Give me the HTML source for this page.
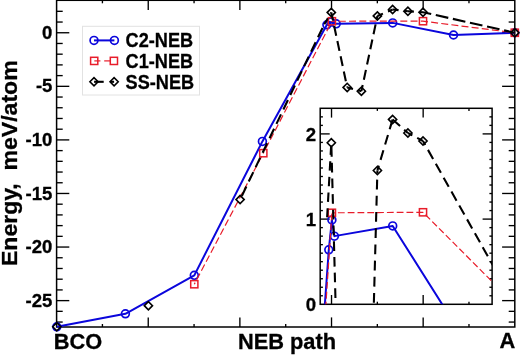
<!DOCTYPE html>
<html><head><meta charset="utf-8"><title>NEB path energy</title>
<style>html,body{margin:0;padding:0;background:#fff}text{stroke:#000;stroke-width:.3px;fill:#000}</style></head>
<body>
<svg width="520" height="355" viewBox="0 0 520 355" style="display:block" font-family="'Liberation Sans', Arial, Helvetica, sans-serif" font-weight="bold">
<rect width="520" height="355" fill="#fff"/>
<defs><clipPath id="cm"><rect x="56.6" y="0" width="458.19999999999993" height="327.0"/></clipPath><clipPath id="ci"><rect x="320.2" y="108.3" width="171.90000000000003" height="196.0"/></clipPath><clipPath id="ca"><rect x="320.2" y="120" width="30" height="97.5"/></clipPath></defs>
<rect x="56.6" y="0.3" width="458.19999999999993" height="326.7" fill="none" stroke="#000" stroke-width="1.5"/>
<line x1="56.60" y1="322.06" x2="62.70" y2="322.06" stroke="#000" stroke-width="1.35"/>
<line x1="514.80" y1="322.06" x2="508.70" y2="322.06" stroke="#000" stroke-width="1.35"/>
<line x1="56.60" y1="311.34" x2="62.70" y2="311.34" stroke="#000" stroke-width="1.35"/>
<line x1="514.80" y1="311.34" x2="508.70" y2="311.34" stroke="#000" stroke-width="1.35"/>
<line x1="56.60" y1="300.62" x2="69.30" y2="300.62" stroke="#000" stroke-width="1.35"/>
<line x1="514.80" y1="300.62" x2="502.10" y2="300.62" stroke="#000" stroke-width="1.35"/>
<line x1="56.60" y1="289.91" x2="62.70" y2="289.91" stroke="#000" stroke-width="1.35"/>
<line x1="514.80" y1="289.91" x2="508.70" y2="289.91" stroke="#000" stroke-width="1.35"/>
<line x1="56.60" y1="279.19" x2="62.70" y2="279.19" stroke="#000" stroke-width="1.35"/>
<line x1="514.80" y1="279.19" x2="508.70" y2="279.19" stroke="#000" stroke-width="1.35"/>
<line x1="56.60" y1="268.48" x2="62.70" y2="268.48" stroke="#000" stroke-width="1.35"/>
<line x1="514.80" y1="268.48" x2="508.70" y2="268.48" stroke="#000" stroke-width="1.35"/>
<line x1="56.60" y1="257.76" x2="62.70" y2="257.76" stroke="#000" stroke-width="1.35"/>
<line x1="514.80" y1="257.76" x2="508.70" y2="257.76" stroke="#000" stroke-width="1.35"/>
<line x1="56.60" y1="247.05" x2="69.30" y2="247.05" stroke="#000" stroke-width="1.35"/>
<line x1="514.80" y1="247.05" x2="502.10" y2="247.05" stroke="#000" stroke-width="1.35"/>
<line x1="56.60" y1="236.34" x2="62.70" y2="236.34" stroke="#000" stroke-width="1.35"/>
<line x1="514.80" y1="236.34" x2="508.70" y2="236.34" stroke="#000" stroke-width="1.35"/>
<line x1="56.60" y1="225.62" x2="62.70" y2="225.62" stroke="#000" stroke-width="1.35"/>
<line x1="514.80" y1="225.62" x2="508.70" y2="225.62" stroke="#000" stroke-width="1.35"/>
<line x1="56.60" y1="214.91" x2="62.70" y2="214.91" stroke="#000" stroke-width="1.35"/>
<line x1="514.80" y1="214.91" x2="508.70" y2="214.91" stroke="#000" stroke-width="1.35"/>
<line x1="56.60" y1="204.19" x2="62.70" y2="204.19" stroke="#000" stroke-width="1.35"/>
<line x1="514.80" y1="204.19" x2="508.70" y2="204.19" stroke="#000" stroke-width="1.35"/>
<line x1="56.60" y1="193.47" x2="69.30" y2="193.47" stroke="#000" stroke-width="1.35"/>
<line x1="514.80" y1="193.47" x2="502.10" y2="193.47" stroke="#000" stroke-width="1.35"/>
<line x1="56.60" y1="182.76" x2="62.70" y2="182.76" stroke="#000" stroke-width="1.35"/>
<line x1="514.80" y1="182.76" x2="508.70" y2="182.76" stroke="#000" stroke-width="1.35"/>
<line x1="56.60" y1="172.04" x2="62.70" y2="172.04" stroke="#000" stroke-width="1.35"/>
<line x1="514.80" y1="172.04" x2="508.70" y2="172.04" stroke="#000" stroke-width="1.35"/>
<line x1="56.60" y1="161.33" x2="62.70" y2="161.33" stroke="#000" stroke-width="1.35"/>
<line x1="514.80" y1="161.33" x2="508.70" y2="161.33" stroke="#000" stroke-width="1.35"/>
<line x1="56.60" y1="150.62" x2="62.70" y2="150.62" stroke="#000" stroke-width="1.35"/>
<line x1="514.80" y1="150.62" x2="508.70" y2="150.62" stroke="#000" stroke-width="1.35"/>
<line x1="56.60" y1="139.90" x2="69.30" y2="139.90" stroke="#000" stroke-width="1.35"/>
<line x1="514.80" y1="139.90" x2="502.10" y2="139.90" stroke="#000" stroke-width="1.35"/>
<line x1="56.60" y1="129.19" x2="62.70" y2="129.19" stroke="#000" stroke-width="1.35"/>
<line x1="514.80" y1="129.19" x2="508.70" y2="129.19" stroke="#000" stroke-width="1.35"/>
<line x1="56.60" y1="118.47" x2="62.70" y2="118.47" stroke="#000" stroke-width="1.35"/>
<line x1="514.80" y1="118.47" x2="508.70" y2="118.47" stroke="#000" stroke-width="1.35"/>
<line x1="56.60" y1="107.75" x2="62.70" y2="107.75" stroke="#000" stroke-width="1.35"/>
<line x1="514.80" y1="107.75" x2="508.70" y2="107.75" stroke="#000" stroke-width="1.35"/>
<line x1="56.60" y1="97.04" x2="62.70" y2="97.04" stroke="#000" stroke-width="1.35"/>
<line x1="514.80" y1="97.04" x2="508.70" y2="97.04" stroke="#000" stroke-width="1.35"/>
<line x1="56.60" y1="86.33" x2="69.30" y2="86.33" stroke="#000" stroke-width="1.35"/>
<line x1="514.80" y1="86.33" x2="502.10" y2="86.33" stroke="#000" stroke-width="1.35"/>
<line x1="56.60" y1="75.61" x2="62.70" y2="75.61" stroke="#000" stroke-width="1.35"/>
<line x1="514.80" y1="75.61" x2="508.70" y2="75.61" stroke="#000" stroke-width="1.35"/>
<line x1="56.60" y1="64.89" x2="62.70" y2="64.89" stroke="#000" stroke-width="1.35"/>
<line x1="514.80" y1="64.89" x2="508.70" y2="64.89" stroke="#000" stroke-width="1.35"/>
<line x1="56.60" y1="54.18" x2="62.70" y2="54.18" stroke="#000" stroke-width="1.35"/>
<line x1="514.80" y1="54.18" x2="508.70" y2="54.18" stroke="#000" stroke-width="1.35"/>
<line x1="56.60" y1="43.47" x2="62.70" y2="43.47" stroke="#000" stroke-width="1.35"/>
<line x1="514.80" y1="43.47" x2="508.70" y2="43.47" stroke="#000" stroke-width="1.35"/>
<line x1="56.60" y1="32.75" x2="69.30" y2="32.75" stroke="#000" stroke-width="1.35"/>
<line x1="514.80" y1="32.75" x2="502.10" y2="32.75" stroke="#000" stroke-width="1.35"/>
<line x1="56.60" y1="22.04" x2="62.70" y2="22.04" stroke="#000" stroke-width="1.35"/>
<line x1="514.80" y1="22.04" x2="508.70" y2="22.04" stroke="#000" stroke-width="1.35"/>
<line x1="56.60" y1="11.32" x2="62.70" y2="11.32" stroke="#000" stroke-width="1.35"/>
<line x1="514.80" y1="11.32" x2="508.70" y2="11.32" stroke="#000" stroke-width="1.35"/>
<line x1="102.42" y1="327.00" x2="102.42" y2="324.00" stroke="#000" stroke-width="1.35"/>
<line x1="102.42" y1="0.30" x2="102.42" y2="3.30" stroke="#000" stroke-width="1.35"/>
<line x1="148.24" y1="327.00" x2="148.24" y2="317.40" stroke="#000" stroke-width="1.35"/>
<line x1="148.24" y1="0.30" x2="148.24" y2="9.90" stroke="#000" stroke-width="1.35"/>
<line x1="194.06" y1="327.00" x2="194.06" y2="324.00" stroke="#000" stroke-width="1.35"/>
<line x1="194.06" y1="0.30" x2="194.06" y2="3.30" stroke="#000" stroke-width="1.35"/>
<line x1="239.88" y1="327.00" x2="239.88" y2="317.40" stroke="#000" stroke-width="1.35"/>
<line x1="239.88" y1="0.30" x2="239.88" y2="9.90" stroke="#000" stroke-width="1.35"/>
<line x1="285.70" y1="327.00" x2="285.70" y2="324.00" stroke="#000" stroke-width="1.35"/>
<line x1="285.70" y1="0.30" x2="285.70" y2="3.30" stroke="#000" stroke-width="1.35"/>
<line x1="331.52" y1="327.00" x2="331.52" y2="317.40" stroke="#000" stroke-width="1.35"/>
<line x1="331.52" y1="0.30" x2="331.52" y2="9.90" stroke="#000" stroke-width="1.35"/>
<line x1="377.34" y1="327.00" x2="377.34" y2="324.00" stroke="#000" stroke-width="1.35"/>
<line x1="377.34" y1="0.30" x2="377.34" y2="3.30" stroke="#000" stroke-width="1.35"/>
<line x1="423.16" y1="327.00" x2="423.16" y2="317.40" stroke="#000" stroke-width="1.35"/>
<line x1="423.16" y1="0.30" x2="423.16" y2="9.90" stroke="#000" stroke-width="1.35"/>
<line x1="468.98" y1="327.00" x2="468.98" y2="324.00" stroke="#000" stroke-width="1.35"/>
<line x1="468.98" y1="0.30" x2="468.98" y2="3.30" stroke="#000" stroke-width="1.35"/>
<text transform="translate(52.4,38.90) scale(1.06,1)" text-anchor="end" font-size="17.5">0</text>
<text transform="translate(52.4,92.48) scale(1.06,1)" text-anchor="end" font-size="17.5">-5</text>
<text transform="translate(52.4,146.05) scale(1.06,1)" text-anchor="end" font-size="17.5">-10</text>
<text transform="translate(52.4,199.62) scale(1.06,1)" text-anchor="end" font-size="17.5">-15</text>
<text transform="translate(52.4,253.20) scale(1.06,1)" text-anchor="end" font-size="17.5">-20</text>
<text transform="translate(52.4,306.77) scale(1.06,1)" text-anchor="end" font-size="17.5">-25</text>
<text transform="translate(53.8,348.7) scale(1.0,1)" font-size="21.8">BCO</text>
<text transform="translate(287.0,349.0) scale(1.0,1)" text-anchor="middle" font-size="21.8">NEB path</text>
<text transform="translate(515.2,348.3) scale(1.0,1)" text-anchor="end" font-size="21.8">A</text>
<text transform="translate(17.2,163.2) rotate(-90) scale(1.02,1)" text-anchor="middle" font-size="22.6" xml:space="preserve">Energy,  meV/atom</text>
<polyline points="56.80,326.77 125.40,313.80 194.30,275.34 262.40,141.40 326.90,24.82 330.80,22.04 336.20,23.86 392.70,22.89 453.50,35.00 514.80,32.75" fill="none" stroke="#0b06dc" stroke-width="2.0" stroke-linejoin="round"/>
<circle cx="56.80" cy="326.77" r="3.9" fill="none" stroke="#0b06dc" stroke-width="1.7"/>
<circle cx="125.40" cy="313.80" r="3.9" fill="none" stroke="#0b06dc" stroke-width="1.7"/>
<circle cx="194.30" cy="275.34" r="3.9" fill="none" stroke="#0b06dc" stroke-width="1.7"/>
<circle cx="262.40" cy="141.40" r="3.9" fill="none" stroke="#0b06dc" stroke-width="1.7"/>
<circle cx="326.90" cy="24.82" r="3.9" fill="none" stroke="#0b06dc" stroke-width="1.7"/>
<circle cx="330.80" cy="22.04" r="3.9" fill="none" stroke="#0b06dc" stroke-width="1.7"/>
<circle cx="336.20" cy="23.86" r="3.9" fill="none" stroke="#0b06dc" stroke-width="1.7"/>
<circle cx="392.70" cy="22.89" r="3.9" fill="none" stroke="#0b06dc" stroke-width="1.7"/>
<circle cx="453.50" cy="35.00" r="3.9" fill="none" stroke="#0b06dc" stroke-width="1.7"/>
<circle cx="514.80" cy="32.75" r="3.9" fill="none" stroke="#0b06dc" stroke-width="1.7"/>
<line x1="194.30" y1="284.23" x2="263.30" y2="153.19" stroke="#e81c2a" stroke-width="1.2" stroke-dasharray="7 3.2" stroke-dashoffset="5.20"/>
<line x1="263.30" y1="153.19" x2="331.90" y2="21.24" stroke="#e81c2a" stroke-width="1.2" stroke-dasharray="7 3.2" stroke-dashoffset="5.20"/>
<line x1="331.90" y1="21.24" x2="423.00" y2="21.18" stroke="#e81c2a" stroke-width="1.2" stroke-dasharray="7 3.25" stroke-dashoffset="3.35"/>
<line x1="423.00" y1="21.18" x2="514.80" y2="32.75" stroke="#e81c2a" stroke-width="1.2" stroke-dasharray="7 3.2" stroke-dashoffset="2.00"/>
<rect x="190.70" y="280.63" width="7.2" height="7.2" fill="none" stroke="#e81c2a" stroke-width="1.5"/>
<rect x="259.70" y="149.59" width="7.2" height="7.2" fill="none" stroke="#e81c2a" stroke-width="1.5"/>
<rect x="328.30" y="17.64" width="7.2" height="7.2" fill="none" stroke="#e81c2a" stroke-width="1.5"/>
<rect x="419.40" y="17.58" width="7.2" height="7.2" fill="none" stroke="#e81c2a" stroke-width="1.5"/>
<rect x="511.20" y="29.15" width="7.2" height="7.2" fill="none" stroke="#e81c2a" stroke-width="1.5"/>
<line x1="240.10" y1="199.58" x2="324.30" y2="24.18" stroke="#000" stroke-width="2.1" stroke-dasharray="10.5 5.5" stroke-dashoffset="12.00"/>
<line x1="324.30" y1="24.18" x2="331.30" y2="12.43" stroke="#000" stroke-width="2.1" stroke-dasharray="10 5.5" stroke-dashoffset="3.00"/>
<line x1="331.30" y1="12.43" x2="347.20" y2="87.40" stroke="#000" stroke-width="2.1" stroke-dasharray="10 5.5" stroke-dashoffset="1.70"/>
<line x1="347.20" y1="87.40" x2="361.40" y2="91.15" stroke="#000" stroke-width="2.1" stroke-dasharray="10 5.5" stroke-dashoffset="4.00"/>
<line x1="361.40" y1="91.15" x2="377.40" y2="15.93" stroke="#000" stroke-width="2.1" stroke-dasharray="10 5.5" stroke-dashoffset="3.75"/>
<line x1="377.40" y1="15.93" x2="392.60" y2="9.50" stroke="#000" stroke-width="2.1" stroke-dasharray="10 5.5" stroke-dashoffset="4.00"/>
<line x1="392.60" y1="9.50" x2="407.90" y2="11.21" stroke="#000" stroke-width="2.1" stroke-dasharray="10 5.5" stroke-dashoffset="4.00"/>
<line x1="407.90" y1="11.21" x2="423.00" y2="12.21" stroke="#000" stroke-width="2.1" stroke-dasharray="10 5.5" stroke-dashoffset="4.00"/>
<line x1="423.00" y1="12.21" x2="514.80" y2="32.75" stroke="#000" stroke-width="2.1" stroke-dasharray="12.8 4.7" stroke-dashoffset="4.40"/>
<path d="M52.70 326.77L56.80 322.67L60.90 326.77L56.80 330.87Z" fill="none" stroke="#000" stroke-width="1.6"/>
<path d="M144.30 305.66L148.40 301.56L152.50 305.66L148.40 309.76Z" fill="none" stroke="#000" stroke-width="1.6"/>
<path d="M236.00 199.58L240.10 195.48L244.20 199.58L240.10 203.68Z" fill="none" stroke="#000" stroke-width="1.6"/>
<path d="M327.20 12.43L331.30 8.33L335.40 12.43L331.30 16.53Z" fill="none" stroke="#000" stroke-width="1.6"/>
<path d="M343.10 87.40L347.20 83.30L351.30 87.40L347.20 91.50Z" fill="none" stroke="#000" stroke-width="1.6"/>
<path d="M357.30 91.15L361.40 87.05L365.50 91.15L361.40 95.25Z" fill="none" stroke="#000" stroke-width="1.6"/>
<path d="M373.30 15.93L377.40 11.83L381.50 15.93L377.40 20.03Z" fill="none" stroke="#000" stroke-width="1.6"/>
<path d="M388.50 9.50L392.60 5.40L396.70 9.50L392.60 13.60Z" fill="none" stroke="#000" stroke-width="1.6"/>
<path d="M403.80 11.21L407.90 7.11L412.00 11.21L407.90 15.31Z" fill="none" stroke="#000" stroke-width="1.6"/>
<path d="M418.90 12.21L423.00 8.11L427.10 12.21L423.00 16.31Z" fill="none" stroke="#000" stroke-width="1.6"/>
<path d="M510.70 32.75L514.80 28.65L518.90 32.75L514.80 36.85Z" fill="none" stroke="#000" stroke-width="1.6"/>
<rect x="82.5" y="26.3" width="117" height="68.7" fill="#fff" stroke="#e2e2e2" stroke-width="1"/>
<line x1="94.00" y1="40.40" x2="114.40" y2="40.40" stroke="#0b06dc" stroke-width="2.0"/>
<circle cx="94.00" cy="40.40" r="3.9" fill="none" stroke="#0b06dc" stroke-width="1.7"/>
<circle cx="114.40" cy="40.40" r="3.9" fill="none" stroke="#0b06dc" stroke-width="1.7"/>
<line x1="94.30" y1="60.90" x2="100.40" y2="60.90" stroke="#e81c2a" stroke-width="1.2"/>
<line x1="104.20" y1="60.90" x2="110.50" y2="60.90" stroke="#e81c2a" stroke-width="1.2"/>
<rect x="90.60" y="57.30" width="7.2" height="7.2" fill="none" stroke="#e81c2a" stroke-width="1.5"/>
<rect x="110.30" y="57.30" width="7.2" height="7.2" fill="none" stroke="#e81c2a" stroke-width="1.5"/>
<line x1="94.10" y1="81.80" x2="103.70" y2="81.80" stroke="#000" stroke-width="2.1"/>
<line x1="110.40" y1="81.80" x2="114.10" y2="81.80" stroke="#000" stroke-width="2.1"/>
<path d="M89.90 81.80L94.00 77.70L98.10 81.80L94.00 85.90Z" fill="none" stroke="#000" stroke-width="1.6"/>
<path d="M110.00 81.80L114.10 77.70L118.20 81.80L114.10 85.90Z" fill="none" stroke="#000" stroke-width="1.6"/>
<text transform="translate(125.6,47.30) scale(0.935,1)" font-size="19.4">C2-NEB</text>
<text transform="translate(125.6,67.80) scale(0.935,1)" font-size="19.4">C1-NEB</text>
<text transform="translate(125.6,88.70) scale(0.935,1)" font-size="19.4">SS-NEB</text>
<rect x="320.2" y="108.3" width="171.90000000000003" height="196.0" fill="#fff" stroke="#000" stroke-width="1.5"/>
<line x1="320.20" y1="295.78" x2="322.90" y2="295.78" stroke="#000" stroke-width="1.35"/>
<line x1="492.10" y1="295.78" x2="489.40" y2="295.78" stroke="#000" stroke-width="1.35"/>
<line x1="320.20" y1="287.26" x2="322.90" y2="287.26" stroke="#000" stroke-width="1.35"/>
<line x1="492.10" y1="287.26" x2="489.40" y2="287.26" stroke="#000" stroke-width="1.35"/>
<line x1="320.20" y1="278.74" x2="322.90" y2="278.74" stroke="#000" stroke-width="1.35"/>
<line x1="492.10" y1="278.74" x2="489.40" y2="278.74" stroke="#000" stroke-width="1.35"/>
<line x1="320.20" y1="270.22" x2="322.90" y2="270.22" stroke="#000" stroke-width="1.35"/>
<line x1="492.10" y1="270.22" x2="489.40" y2="270.22" stroke="#000" stroke-width="1.35"/>
<line x1="320.20" y1="261.70" x2="322.90" y2="261.70" stroke="#000" stroke-width="1.35"/>
<line x1="492.10" y1="261.70" x2="489.40" y2="261.70" stroke="#000" stroke-width="1.35"/>
<line x1="320.20" y1="253.18" x2="322.90" y2="253.18" stroke="#000" stroke-width="1.35"/>
<line x1="492.10" y1="253.18" x2="489.40" y2="253.18" stroke="#000" stroke-width="1.35"/>
<line x1="320.20" y1="244.66" x2="322.90" y2="244.66" stroke="#000" stroke-width="1.35"/>
<line x1="492.10" y1="244.66" x2="489.40" y2="244.66" stroke="#000" stroke-width="1.35"/>
<line x1="320.20" y1="236.14" x2="322.90" y2="236.14" stroke="#000" stroke-width="1.35"/>
<line x1="492.10" y1="236.14" x2="489.40" y2="236.14" stroke="#000" stroke-width="1.35"/>
<line x1="320.20" y1="227.62" x2="322.90" y2="227.62" stroke="#000" stroke-width="1.35"/>
<line x1="492.10" y1="227.62" x2="489.40" y2="227.62" stroke="#000" stroke-width="1.35"/>
<line x1="320.20" y1="219.10" x2="329.70" y2="219.10" stroke="#000" stroke-width="1.35"/>
<line x1="492.10" y1="219.10" x2="482.60" y2="219.10" stroke="#000" stroke-width="1.35"/>
<line x1="320.20" y1="210.58" x2="322.90" y2="210.58" stroke="#000" stroke-width="1.35"/>
<line x1="492.10" y1="210.58" x2="489.40" y2="210.58" stroke="#000" stroke-width="1.35"/>
<line x1="320.20" y1="202.06" x2="322.90" y2="202.06" stroke="#000" stroke-width="1.35"/>
<line x1="492.10" y1="202.06" x2="489.40" y2="202.06" stroke="#000" stroke-width="1.35"/>
<line x1="320.20" y1="193.54" x2="322.90" y2="193.54" stroke="#000" stroke-width="1.35"/>
<line x1="492.10" y1="193.54" x2="489.40" y2="193.54" stroke="#000" stroke-width="1.35"/>
<line x1="320.20" y1="185.02" x2="322.90" y2="185.02" stroke="#000" stroke-width="1.35"/>
<line x1="492.10" y1="185.02" x2="489.40" y2="185.02" stroke="#000" stroke-width="1.35"/>
<line x1="320.20" y1="176.50" x2="322.90" y2="176.50" stroke="#000" stroke-width="1.35"/>
<line x1="492.10" y1="176.50" x2="489.40" y2="176.50" stroke="#000" stroke-width="1.35"/>
<line x1="320.20" y1="167.98" x2="322.90" y2="167.98" stroke="#000" stroke-width="1.35"/>
<line x1="492.10" y1="167.98" x2="489.40" y2="167.98" stroke="#000" stroke-width="1.35"/>
<line x1="320.20" y1="159.46" x2="322.90" y2="159.46" stroke="#000" stroke-width="1.35"/>
<line x1="492.10" y1="159.46" x2="489.40" y2="159.46" stroke="#000" stroke-width="1.35"/>
<line x1="320.20" y1="150.94" x2="322.90" y2="150.94" stroke="#000" stroke-width="1.35"/>
<line x1="492.10" y1="150.94" x2="489.40" y2="150.94" stroke="#000" stroke-width="1.35"/>
<line x1="320.20" y1="142.42" x2="322.90" y2="142.42" stroke="#000" stroke-width="1.35"/>
<line x1="492.10" y1="142.42" x2="489.40" y2="142.42" stroke="#000" stroke-width="1.35"/>
<line x1="320.20" y1="133.90" x2="329.70" y2="133.90" stroke="#000" stroke-width="1.35"/>
<line x1="492.10" y1="133.90" x2="482.60" y2="133.90" stroke="#000" stroke-width="1.35"/>
<line x1="320.20" y1="125.38" x2="322.90" y2="125.38" stroke="#000" stroke-width="1.35"/>
<line x1="492.10" y1="125.38" x2="489.40" y2="125.38" stroke="#000" stroke-width="1.35"/>
<line x1="320.20" y1="116.86" x2="322.90" y2="116.86" stroke="#000" stroke-width="1.35"/>
<line x1="492.10" y1="116.86" x2="489.40" y2="116.86" stroke="#000" stroke-width="1.35"/>
<line x1="331.52" y1="304.30" x2="331.52" y2="295.00" stroke="#000" stroke-width="1.35"/>
<line x1="331.52" y1="108.30" x2="331.52" y2="117.60" stroke="#000" stroke-width="1.35"/>
<line x1="377.34" y1="304.30" x2="377.34" y2="301.70" stroke="#000" stroke-width="1.35"/>
<line x1="377.34" y1="108.30" x2="377.34" y2="110.90" stroke="#000" stroke-width="1.35"/>
<line x1="423.16" y1="304.30" x2="423.16" y2="295.00" stroke="#000" stroke-width="1.35"/>
<line x1="423.16" y1="108.30" x2="423.16" y2="117.60" stroke="#000" stroke-width="1.35"/>
<line x1="468.98" y1="304.30" x2="468.98" y2="301.70" stroke="#000" stroke-width="1.35"/>
<line x1="468.98" y1="108.30" x2="468.98" y2="110.90" stroke="#000" stroke-width="1.35"/>
<text transform="translate(316.2,311.40) scale(1.0,1)" text-anchor="end" font-size="18.6">0</text>
<text transform="translate(316.2,226.20) scale(1.0,1)" text-anchor="end" font-size="18.6">1</text>
<text transform="translate(316.2,141.00) scale(1.0,1)" text-anchor="end" font-size="18.6">2</text>
<polyline clip-path="url(#ci)" points="56.80,2642.19 125.40,2539.10 194.30,2233.23 262.40,1168.23 328.80,249.77 331.90,219.95 334.40,236.14 392.70,225.92 453.50,322.19 514.80,304.30" fill="none" stroke="#0b06dc" stroke-width="2.0" stroke-linejoin="round"/>
<circle cx="328.80" cy="249.77" r="3.9" fill="none" stroke="#0b06dc" stroke-width="1.7"/>
<circle cx="331.90" cy="219.95" r="3.9" fill="none" stroke="#0b06dc" stroke-width="1.7"/>
<circle cx="334.40" cy="236.14" r="3.9" fill="none" stroke="#0b06dc" stroke-width="1.7"/>
<circle cx="392.70" cy="225.92" r="3.9" fill="none" stroke="#0b06dc" stroke-width="1.7"/>
<line clip-path="url(#ci)" x1="194.30" y1="2303.94" x2="263.30" y2="1261.95" stroke="#e81c2a" stroke-width="1.2" stroke-dasharray="6.8 3" stroke-dashoffset="4.80"/>
<line clip-path="url(#ci)" x1="263.30" y1="1261.95" x2="331.90" y2="212.80" stroke="#e81c2a" stroke-width="1.2" stroke-dasharray="6.8 3" stroke-dashoffset="4.80"/>
<line clip-path="url(#ci)" x1="331.90" y1="212.80" x2="423.00" y2="212.28" stroke="#e81c2a" stroke-width="1.2" stroke-dasharray="6.8 3" stroke-dashoffset="3.80"/>
<line clip-path="url(#ci)" x1="423.00" y1="212.28" x2="514.80" y2="304.30" stroke="#e81c2a" stroke-width="1.2" stroke-dasharray="6.6 3" stroke-dashoffset="6.10"/>
<rect x="328.30" y="209.20" width="7.2" height="7.2" fill="none" stroke="#e81c2a" stroke-width="1.5"/>
<rect x="419.40" y="208.68" width="7.2" height="7.2" fill="none" stroke="#e81c2a" stroke-width="1.5"/>
<line clip-path="url(#ca)" x1="326.30" y1="231.88" x2="331.30" y2="142.76" stroke="#000" stroke-width="2.1" stroke-dasharray="9.4 6.3" stroke-dashoffset="1.40"/>
<line clip-path="url(#ci)" x1="331.30" y1="142.76" x2="347.20" y2="738.82" stroke="#000" stroke-width="2.1" stroke-dasharray="9.7 6.0" stroke-dashoffset="11.40"/>
<line clip-path="url(#ci)" x1="347.20" y1="738.82" x2="361.40" y2="768.64" stroke="#000" stroke-width="2.1" stroke-dasharray="10 5.5" stroke-dashoffset="0.00"/>
<line clip-path="url(#ci)" x1="361.40" y1="768.64" x2="377.40" y2="170.54" stroke="#000" stroke-width="2.1" stroke-dasharray="9.8 6.4" stroke-dashoffset="3.80"/>
<line clip-path="url(#ci)" x1="377.40" y1="170.54" x2="392.60" y2="119.42" stroke="#000" stroke-width="2.1" stroke-dasharray="10 6" stroke-dashoffset="4.90"/>
<line clip-path="url(#ci)" x1="392.60" y1="119.42" x2="407.90" y2="133.05" stroke="#000" stroke-width="2.1" stroke-dasharray="10 5.5" stroke-dashoffset="0.00"/>
<line clip-path="url(#ci)" x1="407.90" y1="133.05" x2="423.00" y2="140.97" stroke="#000" stroke-width="2.1" stroke-dasharray="10 5.5" stroke-dashoffset="5.00"/>
<line clip-path="url(#ci)" x1="423.00" y1="140.97" x2="514.80" y2="304.30" stroke="#000" stroke-width="2.1" stroke-dasharray="10.4 5.55" stroke-dashoffset="5.75"/>
<path d="M327.20 142.76L331.30 138.66L335.40 142.76L331.30 146.86Z" fill="none" stroke="#000" stroke-width="1.6"/>
<path d="M373.30 170.54L377.40 166.44L381.50 170.54L377.40 174.64Z" fill="none" stroke="#000" stroke-width="1.6"/>
<path d="M388.50 119.42L392.60 115.32L396.70 119.42L392.60 123.52Z" fill="none" stroke="#000" stroke-width="1.6"/>
<path d="M403.80 133.05L407.90 128.95L412.00 133.05L407.90 137.15Z" fill="none" stroke="#000" stroke-width="1.6"/>
<path d="M418.90 140.97L423.00 136.87L427.10 140.97L423.00 145.07Z" fill="none" stroke="#000" stroke-width="1.6"/>
</svg>
</body></html>
